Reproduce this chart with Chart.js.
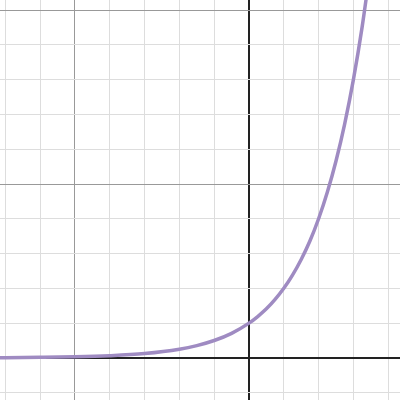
<!DOCTYPE html>
<html>
<head>
<meta charset="utf-8">
<script src="https://cdn.jsdelivr.net/npm/chart.js@4"></script>
<style>
  html, body { margin: 0; padding: 0; background: #fff; }
  #wrap { width: 400px; height: 400px; }
</style>
</head>
<body>
<div id="wrap"><canvas id="graph"></canvas></div>
<script>
// values (grid units)
const curveX = [-7.5, -7, -6, -5, -4, -3, -2, -1.5, -1, -0.5, 0, 0.25, 0.5, 0.75, 1, 1.25, 1.5, 1.75, 2, 2.25, 2.5, 2.75, 3, 3.25, 3.5];
const curveY = [0.006, 0.008, 0.016, 0.031, 0.063, 0.125, 0.25, 0.354, 0.5, 0.707, 1, 1.19, 1.41, 1.68, 2, 2.38, 2.83, 3.36, 4, 4.76, 5.66, 6.73, 8, 9.51, 11.3];

const xRange = [-7.155, 4.339];
const yRange = [-1.21, 10.29];

function gridColor(ctx) {
    const v = ctx.tick ? ctx.tick.value : 0;
    if (v === 0) return "#222";
    if (v % 5 === 0) return "#999";
    return "#ddd";
}
function gridWidth(ctx) {
    const v = ctx.tick ? ctx.tick.value : 0;
    return v === 0 ? 2 : 1;
}
function intTicks(axis) {
    const t = [];
    for (let v = Math.ceil(axis.min); v <= Math.floor(axis.max); v++) t.push({ value: v });
    axis.ticks = t;
}

const axisBase = {
    type: "linear",
    ticks: { display: false },
    border: { display: false },
    grid: { color: gridColor, lineWidth: gridWidth, drawTicks: false },
    afterBuildTicks: intTicks
};

new Chart(document.getElementById("graph").getContext("2d"), {
    type: "scatter",
    data: {
        datasets: [{
            data: curveX.map((x, i) => ({ x: x, y: curveY[i] })),
            showLine: true,
            borderColor: "#9f8bc2",
            borderWidth: 3.5,
            pointRadius: 0,
            cubicInterpolationMode: "monotone"
        }]
    },
    options: {
        responsive: true,
        maintainAspectRatio: false,
        animation: false,
        layout: { padding: 0 },
        plugins: { legend: { display: false }, tooltip: { enabled: false } },
        scales: {
            x: Object.assign({}, axisBase, { min: xRange[0], max: xRange[1] }),
            y: Object.assign({}, axisBase, { min: yRange[0], max: yRange[1] })
        }
    }
});
</script>
</body>
</html>
